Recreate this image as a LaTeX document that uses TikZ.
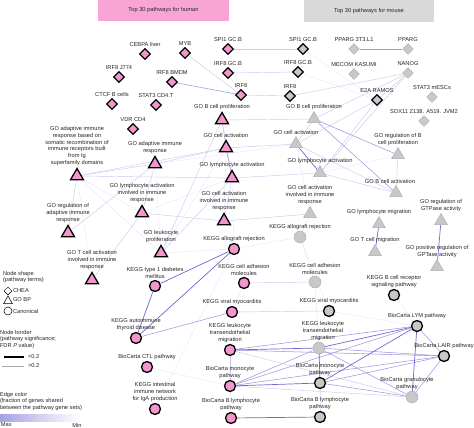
\documentclass[tikz,border=0pt]{standalone}
\usepackage{fontspec}
\setmainfont{Liberation Sans}
\usepackage{xcolor}
\usepackage{tikz}
\usetikzlibrary{shapes.geometric, backgrounds}

\definecolor{hpink}{RGB}{242,150,204}
\definecolor{hdrpink}{RGB}{248,165,214}
\definecolor{mgray}{RGB}{200,200,200}
\definecolor{hdrgray}{RGB}{217,217,217}
\definecolor{edgemax}{RGB}{95,85,205}

\begin{document}
\begin{tikzpicture}[x=1pt, y=-1pt,
  lbl/.style={font=\fontsize{5.7}{6.8}\selectfont, text=black!85, align=center, inner sep=0.8pt},
  chea/.style={diamond, minimum size=11pt, inner sep=0pt},
  gobp/.style={regular polygon, regular polygon sides=3, minimum size=15pt, inner sep=0pt},
  canon/.style={circle, minimum size=11pt, inner sep=0pt},
  hum/.style={fill=hpink},
  mus/.style={fill=mgray},
  sig/.style={draw=black, line width=1.3pt},
  ns/.style={draw=mgray!85!black, line width=0.4pt},
  every label/.style={lbl},
  label distance=0.5pt,
  efaint/.style={draw=edgemax!15, line width=0.4pt},
  elight/.style={draw=edgemax!32, line width=0.45pt},
  emid/.style={draw=edgemax!60, line width=0.55pt},
  estrong/.style={draw=edgemax!90, line width=0.7pt}]
  \useasboundingbox (0,0) rectangle (474,428);

  % column headers
  \node[fill=hdrpink, minimum width=131pt, minimum height=21pt, lbl] (hhead) at (163.5,10.5) {Top 30 pathways for human};
  \node[fill=hdrgray, minimum width=130pt, minimum height=22pt, lbl] (mhead) at (369,11) {Top 30 pathways for mouse};

  % --- human: CHEA ---
  \node[chea,hum,sig,label={above:CEBPA liver}] (hCEBPA) at (145,54) {};
  \node[chea,hum,sig,label={above:MYB}] (hMYB) at (185,53) {};
  \node[chea,hum,sig,label={above:SPI1 GC.B}] (hSPI) at (228,49) {};
  \node[chea,hum,sig,label={above:IRF8 J774}] (hJ774) at (119,77) {};
  \node[chea,hum,sig,label={above:IRF8 BMDM}] (hBMDM) at (172,82) {};
  \node[chea,hum,sig,label={above:IRF8 GC.B}] (hIRFgc) at (228,73) {};
  \node[chea,hum,sig,label={above:IRF8}] (hIRF) at (241,95) {};
  \node[chea,hum,sig,label={above:CTCF B cells}] (hCTCF) at (112,104) {};
  \node[chea,hum,sig,label={above:STAT3 CD4.T}] (hSTAT) at (156,105) {};
  \node[chea,hum,sig,label={above:VDR CD4}] (hVDR) at (133,129) {};

  % --- mouse: CHEA ---
  \node[chea,mus,sig,label={above:SPI1 GC.B}] (mSPI) at (303,49) {};
  \node[chea,mus,ns,label={above:PPARG 3T3.L1}] (mPPt) at (354,49) {};
  \node[chea,mus,ns,label={above:PPARG}] (mPPARG) at (408,49) {};
  \node[chea,mus,sig,label={above:IRF8 GC.B}] (mIRFgc) at (298,72) {};
  \node[chea,mus,ns,label={above:MECOM KASUMI}] (mMECOM) at (354,74) {};
  \node[chea,mus,ns,label={above:NANOG}] (mNANOG) at (408,73) {};
  \node[chea,mus,sig,label={above:IRF8}] (mIRF) at (290,96) {};
  \node[chea,mus,sig,label={above:E2A RAMOS}] (mE2A) at (377,100) {};
  \node[chea,mus,ns,label={above:STAT3 mESCs}] (mSTAT) at (432,97) {};
  \node[chea,mus,ns,label={above:SOX11 Z138. A519. JVM2}] (mSOX) at (424,121) {};

  % --- human: GO BP ---
  \node[gobp,hum,sig,label={above:GO B cell proliferation}] (hBprol) at (222,120) {};
  \node[gobp,hum,sig,label={above:GO cell activation}] (hCact) at (226,148) {};
  \node[gobp,hum,sig,label={above:GO lymphocyte activation}] (hLact) at (232,178) {};
  \node[gobp,hum,sig,label={above:GO adaptive immune\\response}] (hAdapt) at (155,164) {};
  \node[gobp,hum,sig,label={above:GO adaptive immune\\response based on\\somatic recombination of\\immune receptors built\\from Ig\\superfamily domains}] (hAdIg) at (77,176) {};
  \node[gobp,hum,sig,label={above:GO lymphocyte activation\\involved in immune\\response}] (hLinv) at (142,213) {};
  \node[gobp,hum,sig,label={above:GO cell activation\\involved in immune\\response}] (hCinv) at (224,221) {};
  \node[gobp,hum,sig,label={above:GO regulation of\\adaptive immune\\response}] (hRegAd) at (68,233) {};
  \node[gobp,hum,sig,label={above:GO leukocyte\\proliferation}] (hLeuk) at (161,253) {};
  \node[gobp,hum,sig,label={above:GO T cell activation\\involved in immune\\response}] (hTinv) at (92,280) {};

  % --- mouse: GO BP ---
  \node[gobp,mus,ns,label={above:GO B cell proliferation}] (mBprol) at (314,119) {};
  \node[gobp,mus,ns,label={above:GO cell activation}] (mCact) at (296,144) {};
  \node[gobp,mus,ns,label={above:GO lymphocyte activation}] (mLact) at (320,173) {};
  \node[gobp,mus,ns,label={above:GO regulation of B\\cell proliferation}] (mRegB) at (398,155) {};
  \node[gobp,mus,ns,label={[xshift=-6pt]above:GO B cell activation}] (mBact) at (396,193) {};
  \node[gobp,mus,ns,label={above:GO cell activation\\involved in immune\\response}] (mCinv) at (310,214) {};
  \node[gobp,mus,ns,label={above:GO regulation of\\GTPase activity}] (mGTP) at (441,221) {};
  \node[gobp,mus,ns,label={above:GO lymphocyte migration}] (mLmig) at (379,224) {};
  \node[gobp,mus,ns,label={above:GO T cell migration}] (mTmig) at (375,252) {};
  \node[gobp,mus,ns,label={above:GO positive regulation of\\GPTase activity}] (mPosGTP) at (437,267) {};

  % --- human: canonical ---
  \node[canon,hum,sig,label={above:KEGG allograft rejection}] (hAllo) at (234,249) {};
  \node[canon,hum,sig,label={above:KEGG cell adhesion\\molecules}] (hCAM) at (244,283) {};
  \node[canon,hum,sig,label={above:KEGG type 1 diabetes\\mellitus}] (hT1D) at (155,286) {};
  \node[canon,hum,sig,label={above:KEGG viral myocarditis}] (hViral) at (232,312) {};
  \node[canon,hum,sig,label={above:KEGG autoimmune\\thyroid disease}] (hThyr) at (136,338) {};
  \node[canon,hum,sig,label={above:KEGG leukocyte\\transendothelial\\migration}] (hLTM) at (230,350) {};
  \node[canon,hum,sig,label={above:BioCarta CTL pathway}] (hCTL) at (147,367) {};
  \node[canon,hum,sig,label={above:BioCarta monocyte\\pathway}] (hMono) at (230,386) {};
  \node[canon,hum,sig,label={above:KEGG intestinal\\immune network\\for IgA production}] (hIgA) at (155,409) {};
  \node[canon,hum,sig,label={above:BioCarta B lymphocyte\\pathway}] (hBlym) at (231,418) {};

  % --- mouse: canonical ---
  \node[canon,mus,ns,minimum size=12pt,label={above:KEGG allograft rejection}] (mAllo) at (300,237) {};
  \node[canon,mus,ns,minimum size=12pt,label={above:KEGG cell adhesion\\molecules}] (mCAM) at (315,282) {};
  \node[canon,mus,sig,label={above:KEGG B cell receptor\\signaling pathway}] (mBCR) at (394,295) {};
  \node[canon,mus,sig,label={above:KEGG viral myocarditis}] (mViral) at (329,311) {};
  \node[canon,mus,ns,minimum size=12pt,label={[xshift=4pt]above:KEGG leukocyte\\transendothelial\\migration}] (mLTM) at (319,348) {};
  \node[canon,mus,sig,label={above:BioCarta LYM pathway}] (mLYM) at (417,326) {};
  \node[canon,mus,sig,label={above:BioCarta LAIR pathway}] (mLAIR) at (444,356) {};
  \node[canon,mus,sig,label={above:BioCarta monocyte\\pathway}] (mMono) at (320,383) {};
  \node[canon,mus,ns,minimum size=12pt,label={[xshift=-5pt]above:BioCarta granulocyte\\pathway}] (mGran) at (412,397) {};
  \node[canon,mus,sig,label={above:BioCarta B lymphocyte\\pathway}] (mBlym) at (320,417) {};

  % edges (shared genes), weakest first
  \begin{scope}[on background layer]
    \foreach \a/\b in {hAdapt/mCact, hAdIg/hLinv, hAdIg/hLeuk, hAdIg/hTinv, hLeuk/hCact,
                       hLinv/hLact, hCinv/hCact, hAllo/mAllo, hAllo/hLact, hAllo/hCAM,
                       mAllo/mCAM, mAllo/mViral, mCAM/mLTM, mViral/mLYM, mBCR/mLYM,
                       mSPI/mE2A, mIRFgc/mE2A, mLact/mCinv, mCact/mCinv, hCTL/hMono,
                       hIgA/hAllo, hBlym/hMono, mBlym/mMono, hSPI/hIRF, hIRFgc/hIRF,
                       hLeuk/hAllo, hAdapt/hLeuk, mAllo/mCinv, hCAM/hViral, hLinv/hLeuk,
                       mRegB/mLact}
      \draw[efaint] (\a) -- (\b);
    \foreach \a/\b in {hSPI/mSPI, hIRFgc/mIRFgc, hIRF/mIRF, mIRF/mNANOG, hViral/mViral,
                       hCAM/mCAM, hBprol/mBprol, hCact/mCact, hLact/mLact, hCinv/mCinv,
                       mE2A/mLact, mE2A/mCact, mNANOG/mBprol, mNANOG/mLact, mNANOG/mE2A,
                       hAdIg/hLact, hAdIg/hAdapt, hAdapt/hCact, hLinv/hCinv, hRegAd/hAdapt,
                       hTinv/hLinv, hLeuk/hLact, hBprol/hCact, hBprol/hLact, mCact/mBact,
                       mLact/mBact, mRegB/mBact, hMYB/hIRF, hLTM/hMono, mBprol/mCact,
                       hLeuk/hBprol, hAdIg/hCact, hAdIg/hRegAd, hAdapt/hLinv, hCinv/hLact,
                       hMono/mGran, hLTM/mGran}
      \draw[elight] (\a) -- (\b);
    \foreach \a/\b in {hBMDM/hIRF, mBprol/mBact, mBprol/mRegB, hThyr/hViral, mLTM/mLAIR,
                       mMono/mLAIR, mLTM/mGran, mMono/mGran, hMono/mLYM, hLTM/mLAIR,
                       hLTM/mLYM, hMono/mLTM, mLYM/mLAIR, mLAIR/mGran, hMono/mLAIR,
                       hCact/hLact, mPPt/mPPARG}
      \draw[emid] (\a) -- (\b);
    \foreach \a/\b in {hAllo/hT1D, hAllo/hThyr, hT1D/hThyr, mLmig/mTmig, mGTP/mPosGTP,
                       mCact/mLact, hBlym/mBlym, hMono/mMono, hLTM/mLTM, mLTM/mLYM,
                       mMono/mLYM, mLYM/mGran, mLTM/mMono}
      \draw[estrong] (\a) -- (\b);
  \end{scope}

  % legend: node shape
  \node[lbl, align=left, anchor=north west] (lgshape) at (2,270) {Node shape\\(pathway terms)};
  \node[chea, draw=black, line width=0.5pt, minimum size=8pt] (lgchea) at (8,291) {};
  \node[lbl, anchor=west] at (12,291) {CHEA};
  \node[regular polygon, regular polygon sides=3, draw=black, line width=0.5pt, minimum size=10pt, inner sep=0pt] (lggo) at (8,301) {};
  \node[lbl, anchor=west] at (12,300) {GO BP};
  \node[canon, draw=black, line width=0.5pt, minimum size=8pt] (lgcan) at (8,311) {};
  \node[lbl, anchor=west] at (12,311) {Canonical};

  % legend: node border
  \node[lbl, align=left, anchor=north west] (lgborder) at (-1,329) {Node border\\(pathway significance;\\FDR \textit{P} value)};
  \coordinate (lgthA) at (4,357);
  \coordinate (lgthB) at (24,357);
  \coordinate (lgtnA) at (2,366);
  \coordinate (lgtnB) at (24,366);
  \draw[line width=2.5pt] (lgthA) -- (lgthB);
  \draw[mgray!85!black, line width=0.4pt] (lgtnA) -- (lgtnB);
  \node[lbl, anchor=west] at (27,357) {<0.2};
  \node[lbl, anchor=west] at (27,366) {>0.2};

  % legend: edge colour
  \node[lbl, align=left, anchor=north west] (lgedge) at (-1,391) {Edge color\\(fraction of genes shared\\between the pathway gene sets)};
  \shade[left color=edgemax!55, right color=white] (0,414) rectangle (80,421);
  \node[lbl, anchor=west] at (0,425) {Max};
  \node[lbl] at (77,425) {Min};
\end{tikzpicture}
\end{document}
